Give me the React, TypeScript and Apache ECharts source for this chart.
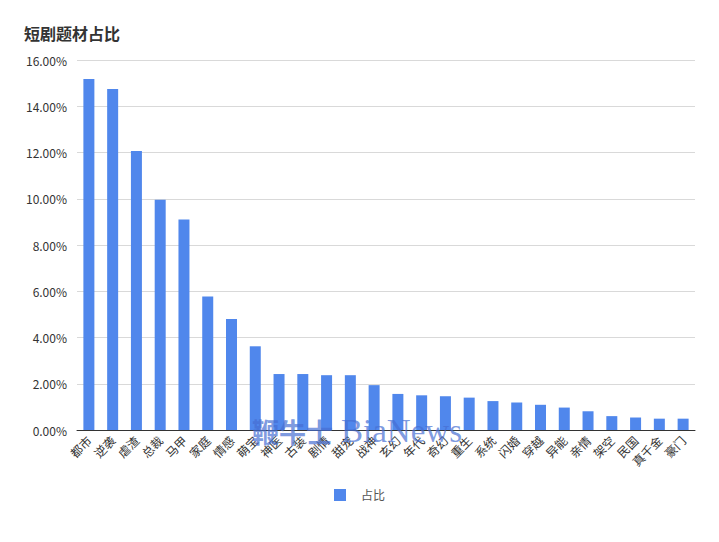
import React, { useEffect, useRef } from "react";
import * as echarts from "echarts";

const categories = ["都市", "逆袭", "虐渣", "总裁", "马甲", "家庭", "情感", "萌宝", "神医", "古装", "剧情", "甜宠", "战神", "玄幻", "年代", "奇幻", "重生", "系统", "闪婚", "穿越", "异能", "亲情", "架空", "民国", "真千金", "豪门"];
const shares = [15.18, 14.75, 12.06, 9.96, 9.1, 5.77, 4.8, 3.62, 2.42, 2.42, 2.37, 2.37, 1.94, 1.56, 1.5, 1.46, 1.4, 1.25, 1.19, 1.09, 0.97, 0.81, 0.6, 0.54, 0.49, 0.49];
const seriesName = "占比";
const titleText = "短剧题材占比";
const watermarkCn = "鞭牛士";
const watermarkEn = "BiaNews";

const FONT = "'Microsoft YaHei', 'Noto Sans CJK SC', 'Noto Sans', sans-serif";
const WM_FILL = "rgba(70, 110, 210, 0.7)";

export default function App() {
  const ref = useRef<HTMLDivElement>(null);
  useEffect(() => {
    if (!ref.current) return;
    const chart = echarts.init(ref.current, null, { renderer: "svg" });
    chart.setOption({
      animation: false,
      backgroundColor: "#ffffff",
      textStyle: { fontFamily: FONT },
      title: {
        text: titleText,
        left: 16,
        top: 17,
        padding: 0,
        textStyle: { fontSize: 16, fontWeight: "bold", color: "#333333", fontFamily: FONT },
      },
      legend: {
        data: [seriesName],
        bottom: 28,
        left: "center",
        icon: "rect",
        itemWidth: 12,
        itemHeight: 12,
        textStyle: { fontSize: 12, color: "#555555", padding: [0, 0, 0, 10], fontFamily: FONT },
      },
      grid: { left: 69, right: 16, top: 52, bottom: 104, containLabel: false },
      xAxis: {
        type: "category",
        data: categories,
        axisLine: { lineStyle: { color: "#333333", width: 1 } },
        axisTick: { show: false },
        axisLabel: { rotate: 45, interval: 0, fontSize: 12, color: "#333333", margin: 8, fontFamily: FONT },
      },
      yAxis: {
        type: "value",
        min: 0,
        max: 16,
        interval: 2,
        axisLine: { show: false },
        axisTick: { show: false },
        axisLabel: {
          fontSize: 12,
          color: "#333333",
          margin: 10,
          fontFamily: FONT,
          formatter: (v: number) => `${v.toFixed(2)}%`,
        },
        splitLine: { lineStyle: { color: "#d9d9d9", width: 1 } },
      },
      series: [
        {
          name: seriesName,
          type: "bar",
          data: shares,
          barWidth: 11,
          itemStyle: { color: "#5087EC" },
        },
      ],
      graphic: [
        {
          type: "text",
          x: 244,
          y: 423,
          z: 100,
          style: {
            text: watermarkCn,
            fontSize: 27,
            fontWeight: "bold",
            align: "left",
            verticalAlign: "middle",
            fontFamily: "'Noto Sans CJK SC', serif",
            fill: WM_FILL,
          },
        },
        {
          type: "text",
          x: 333,
          y: 423,
          z: 100,
          style: {
            text: watermarkEn,
            fontSize: 33,
            align: "left",
            verticalAlign: "middle",
            fontFamily: "'Liberation Serif', 'DejaVu Serif', serif",
            fill: WM_FILL,
          },
        },
      ],
    });
    return () => chart.dispose();
  }, []);
  return <div ref={ref} style={{ width: 703, height: 526 }} />;
}
